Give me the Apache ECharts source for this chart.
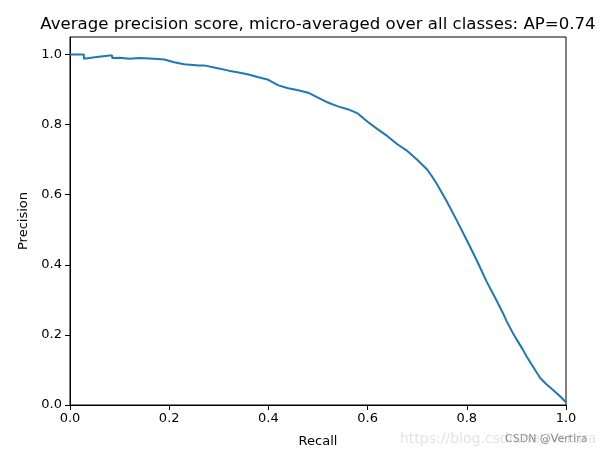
<!DOCTYPE html>
<html>
<head>
<meta charset="utf-8">
<script src="https://cdn.jsdelivr.net/npm/echarts@6/dist/echarts.min.js"></script>
<style>html,body{margin:0;padding:0;background:#fff}#c{width:605px;height:455px}</style>
</head>
<body>
<div id="c"></div>
<script>
const recall = [0, 0.028, 0.028, 0.05, 0.08, 0.085, 0.085, 0.1, 0.12, 0.14, 0.17, 0.19, 0.21, 0.23, 0.26, 0.27, 0.27, 0.3, 0.32, 0.34, 0.36, 0.38, 0.4, 0.42, 0.44, 0.46, 0.48, 0.5, 0.52, 0.54, 0.56, 0.58, 0.6, 0.62, 0.64, 0.66, 0.68, 0.7, 0.72, 0.73, 0.74, 0.76, 0.78, 0.8, 0.82, 0.84, 0.86, 0.873, 0.88, 0.893, 0.9, 0.913, 0.92, 0.94, 0.948, 0.96, 0.974, 0.98, 0.988, 1.0];
const precision = [1.0, 1.0, 0.988, 0.992, 0.997, 0.997, 0.99, 0.991, 0.988, 0.99, 0.988, 0.986, 0.978, 0.972, 0.969, 0.969, 0.964, 0.96, 0.954, 0.949, 0.943, 0.935, 0.928, 0.912, 0.904, 0.898, 0.891, 0.877, 0.863, 0.852, 0.844, 0.832, 0.808, 0.787, 0.767, 0.744, 0.725, 0.7, 0.672, 0.652, 0.63, 0.58, 0.526, 0.47, 0.413, 0.352, 0.298, 0.262, 0.24, 0.205, 0.188, 0.158, 0.14, 0.095, 0.077, 0.06, 0.043, 0.035, 0.025, 0.008];
const xTicks = [0, 0.2, 0.4, 0.6, 0.8, 1.0];
const yTicks = [0, 0.2, 0.4, 0.6, 0.8, 1.0];
const titleText = 'Average precision score, micro-averaged over all classes: AP=0.74';

const chart = echarts.init(document.getElementById('c'));
const font = 'DejaVu Sans';
chart.setOption({
  animation: false,
  title: {
    text: titleText, left: 313, top: 11, textAlign: 'center',
    textStyle: {fontFamily: font, fontSize: 16.6, fontWeight: 'normal', color: '#000'}
  },
  grid: {left: 70, right: 39, top: 37, bottom: 50, show: true, borderColor: '#000', borderWidth: 1, backgroundColor: '#fff'},
  xAxis: {
    type: 'value', min: 0, max: 1,
    name: 'Recall', nameLocation: 'middle', nameGap: 30,
    nameTextStyle: {fontFamily: font, fontSize: 13, color: '#000'},
    axisLine: {show: true, lineStyle: {color: '#000', width: 1}},
    axisTick: {show: true, length: 5, lineStyle: {color: '#000'}, customValues: xTicks},
    axisLabel: {fontFamily: font, fontSize: 13, color: '#000', margin: 7, customValues: xTicks, formatter: v => v.toFixed(1)},
    splitLine: {show: false}
  },
  yAxis: {
    type: 'value', min: 0, max: 1.05,
    name: 'Precision', nameLocation: 'middle', nameGap: 38, nameRotate: 90,
    nameTextStyle: {fontFamily: font, fontSize: 13, color: '#000'},
    axisLine: {show: true, lineStyle: {color: '#000', width: 1}},
    axisTick: {show: true, length: 5, lineStyle: {color: '#000'}, customValues: yTicks},
    axisLabel: {fontFamily: font, fontSize: 13, color: '#000', margin: 8, customValues: yTicks, formatter: v => v.toFixed(1)},
    splitLine: {show: false}
  },
  series: [{
    type: 'line', showSymbol: false, symbol: 'none',
    data: recall.map((r, i) => [r, precision[i]]),
    lineStyle: {color: '#1f77b4', width: 2},
    clip: true
  }],
  graphic: [
    {type: 'text', left: 400, top: 432, style: {text: 'https://blog.csdn.net/Vertira', fontFamily: font, fontSize: 14, fill: 'rgba(0,0,0,0.12)'}},
    {type: 'text', left: 505, top: 434, style: {text: 'CSDN @Vertira', fontFamily: font, fontSize: 11, fill: 'rgba(0,0,0,0.45)'}}
  ]
});
</script>
</body>
</html>
